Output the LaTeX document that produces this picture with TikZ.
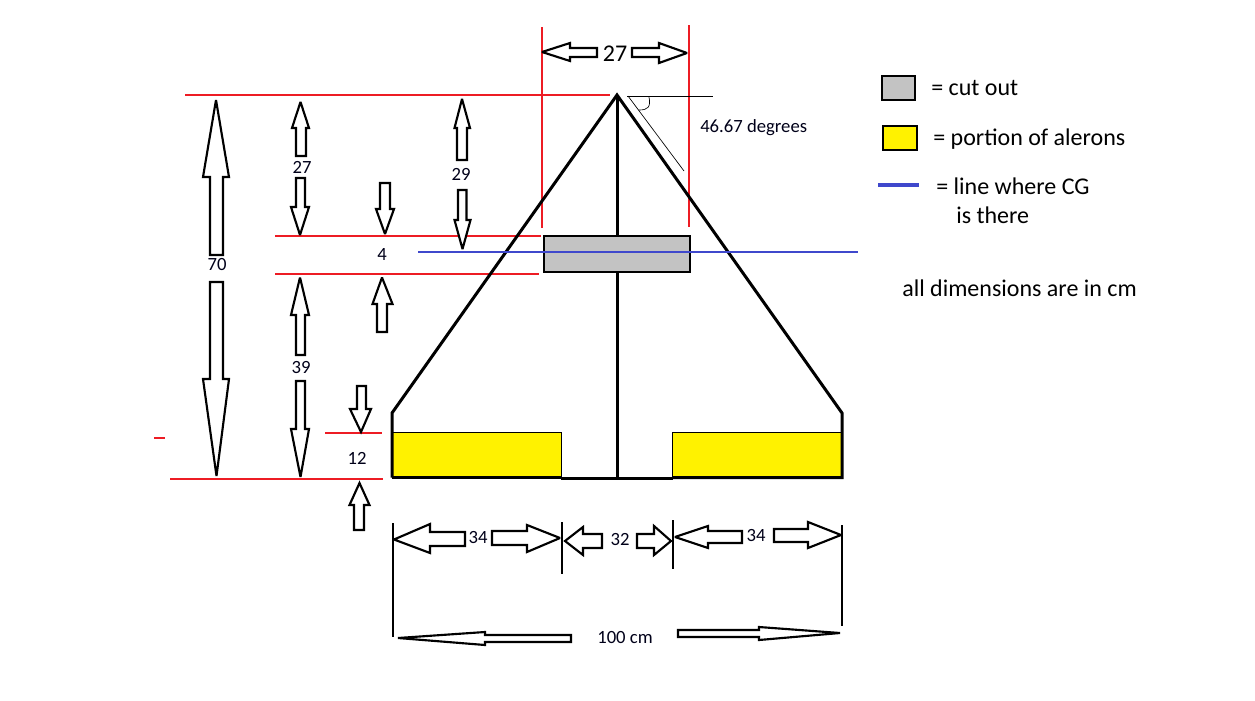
\documentclass[tikz,border=0pt]{standalone}
\usepackage{fontspec}
\setmainfont{Carlito}
\definecolor{pred}{HTML}{ED1C24}
\definecolor{pblue}{HTML}{3F48CC}
\definecolor{pyellow}{HTML}{FFF200}
\definecolor{pgrey}{HTML}{C3C3C3}
\newcommand{\vblock}[8]{\draw[blockarrow] (#1,#2) -- (#4,#3) -- (#6,#3) -- (#6,#8) -- (#7,#8) -- (#7,#3) -- (#5,#3) -- cycle;}
\newcommand{\hblock}[8]{\draw[blockarrow] (#1,#2) -- (#3,#4) -- (#3,#6) -- (#8,#6) -- (#8,#7) -- (#3,#7) -- (#3,#5) -- cycle;}
\tikzset{
  x=0.75pt,y=-0.75pt,
  blockarrow/.style={draw=black,line width=1.6pt,fill=white,line join=miter,miter limit=2.5},
  redline/.style={draw=pred,line width=1.5pt},
  blueline/.style={draw=pblue,line width=1.5pt},
  wing/.style={draw=black,line width=2.25pt,line join=miter},
  thin line/.style={draw=black,line width=0.75pt},
  tick/.style={draw=black,line width=1.5pt},
  dim/.style={inner sep=0pt,font=\fontsize{14pt}{16pt}\selectfont,text=black!90!blue},
  legend/.style={inner sep=0pt,anchor=west,font=\fontsize{18pt}{20pt}\selectfont},
  swatch/.style={draw=black,line width=1.7pt}
}
\begin{document}
\begin{tikzpicture}
\useasboundingbox (0,0) rectangle (1255,700);
\fill[white] (0,0) rectangle (1255,700);
% aileron portions
\draw[fill=pyellow,draw=black,line width=0.75pt] (392,432.5) rectangle (561.5,477);
\draw[fill=pyellow,draw=black,line width=0.75pt] (672,432.5) rectangle (841,477);
% red dimension lines
\draw[redline] (185,95) -- (610,95);
\draw[redline] (275,236) -- (541,236);
\draw[redline] (275,273.5) -- (539,273.5);
\draw[redline] (325,433) -- (382,433);
\draw[redline] (170,479) -- (383,479);
\draw[redline] (154,438) -- (165,438);
\draw[redline] (542,27) -- (542,228);
\draw[redline] (689,25) -- (689,227);
% wing outline
\draw[wing] (392,477.5) -- (392,413) -- (617,95) -- (842,413) -- (842,477.5) -- (672,477.5);
\draw[wing] (392,477.5) -- (562,477.5);
\draw[wing] (561,478.5) -- (673,478.5);
\draw[wing] (617.5,95) -- (617.5,478);
% cut out
\draw[fill=pgrey,draw=black,line width=1.5pt] (544,236) rectangle (690,272);
% CG line
\draw[blueline] (418,252) -- (858,252);
% angle mark
\draw[thin line] (627,96.5) -- (713,96.5);
\draw[draw=black,line width=0.5pt] (628,96) -- (684,171);
\draw[draw=black,line width=0.5pt] (649,97) .. controls (651,107) and (648,110) .. (639,110);
% vertical block arrows
\vblock{216}{100}{177}{203}{229}{210}{223}{255}
\vblock{216.5}{476}{379}{203}{229}{210}{223}{282}
\vblock{300.5}{102}{128}{292}{309}{296}{306}{156}
\vblock{300}{235}{207}{291}{309}{296}{305}{178}
\vblock{300}{277.5}{315}{291}{309}{296}{305}{355}
\vblock{300.5}{477}{429}{291}{309}{296}{305}{381}
\vblock{385}{234}{209}{376}{394}{380}{390}{183}
\vblock{382}{277.5}{304}{372.5}{392.5}{377}{387}{332}
\vblock{462}{99}{128}{454.5}{470}{457}{467}{160}
\vblock{462.5}{249}{220}{454.5}{470.5}{458}{466.5}{190}
\vblock{361}{432}{409}{350}{371}{357}{366}{386}
\vblock{359.5}{483}{505}{349.5}{369.5}{354}{364}{530}
% horizontal block arrows
\hblock{542}{52}{570}{43}{61}{48}{57}{597}
\hblock{687}{53}{659}{43}{63}{48}{57}{632}
\hblock{394}{539.5}{430}{524}{553}{532}{546}{465}
\hblock{560}{538}{527}{525}{552}{531}{545}{492}
\hblock{565}{541}{583}{527}{555}{534}{548}{602}
\hblock{671}{541}{654}{526}{555}{534}{548}{637}
\hblock{675}{537}{708}{526}{548}{531}{543}{742}
\hblock{841}{535}{808}{522}{548}{529}{542}{774}
\hblock{398}{638}{485}{632}{645}{635}{642}{571}
\hblock{840}{633}{759}{627}{640}{630}{637}{678}
% ticks
\draw[tick] (393,523) -- (393,637);
\draw[tick] (561.5,522) -- (561.5,574);
\draw[tick] (673,520) -- (673,569);
\draw[tick] (842,525) -- (842,626);
% labels
\node[dim] (l70) at (217,265) {70};
\node[dim] (l27a) at (302,167) {27};
\node[dim] (l29) at (461,174) {29};
\node[dim] (l4) at (382,255) {4};
\node[dim] (l39) at (301,368) {39};
\node[dim] (l12) at (357,458) {12};
\node[dim] (l34a) at (478,537) {34};
\node[dim] (l32) at (620,539) {32};
\node[dim] (l34b) at (756,535) {34};
\node[dim] (l100) at (625,637) {100 cm};
\node[inner sep=0pt,font=\fontsize{18pt}{20pt}\selectfont] (l27t) at (615,54) {27};
\node[dim,anchor=west] (lang) at (700,128) {46.67 degrees};
% legend
\draw[swatch,fill=pgrey] (882,76) rectangle (915,100);
\draw[swatch,fill=pyellow] (883,126) rectangle (917,150);
\draw[draw=pblue,line width=2.4pt] (878,185) -- (919,185);
\node[legend] (lg1) at (931,88) {= cut out};
\node[legend] (lg2) at (933,139) {= portion of alerons};
\node[legend] (lg3) at (936,186) {= line where CG};
\node[legend] (lg4) at (956,215) {is there};
\node[legend] (lg5) at (902,288) {all dimensions are in cm};
\end{tikzpicture}
\end{document}
